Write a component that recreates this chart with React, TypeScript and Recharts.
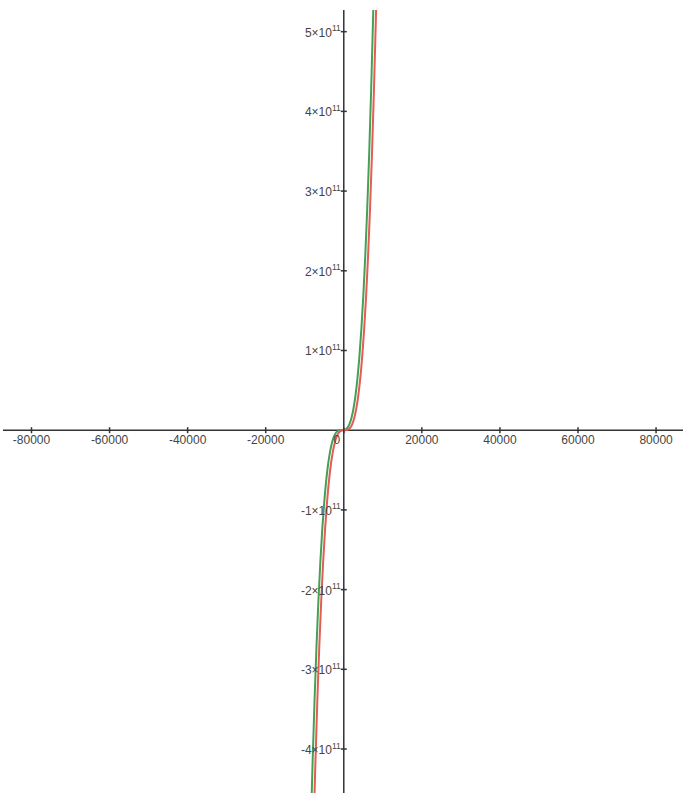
import React from 'react';
import { LineChart, Line, XAxis, YAxis, ReferenceLine, ReferenceDot } from 'recharts';

// x ticks along the horizontal axis, y ticks in units of 10^11
const xTicks = [-80000, -60000, -40000, -20000, 0, 20000, 40000, 60000, 80000];
const yTicks = [5, 4, 3, 2, 1, -1, -2, -3, -4];
const yExponent = '11';

const xDomain = [-87300, 86900];
const yDomain = [-4.552e11, 5.272e11];

// green curve
const greenX = [
    -8400, -8000, -7500, -7000, -6500, -6000, -5500, -5000, -4500, -4000, -3500, -3000,
    -2500, -2000, -1500, -1000, -500, 0, 500, 1000, 1500, 2000, 2500, 3000, 3500, 4000,
    4500, 5000, 5500, 6000, 6500, 7000, 7500, 8000,
];
const greenY = [
    -4.89e11, -4.19e11, -3.4e11, -2.72e11, -2.14e11, -1.65e11, -1.235e11, -8.99e10, -6.3e10,
    -4.21e10, -2.65e10, -1.53e10, -7.76e9, -3.24e9, -9.4e8, -1.1e8, 0, 1.4e8, 1.06e9, 3.51e9,
    8.24e9, 1.6e10, 2.75e10, 4.36e10, 6.5e10, 9.23e10, 1.265e11, 1.682e11, 2.182e11, 2.772e11,
    3.46e11, 4.253e11, 5.158e11, 6.185e11,
];

// red curve, sits a little to the right of the green one
const redX = [
    -7680, -7280, -6780, -6280, -5780, -5280, -4780, -4280, -3780, -3280, -2780, -2280,
    -1780, -1280, -780, -280, 220, 720, 1220, 1720, 2220, 2720, 3220, 3720, 4220, 4720,
    5220, 5720, 6220, 6720, 7220, 7720, 8220, 8720,
];
const redY = [
    -4.89e11, -4.19e11, -3.4e11, -2.72e11, -2.14e11, -1.65e11, -1.235e11, -8.99e10, -6.3e10,
    -4.21e10, -2.65e10, -1.53e10, -7.76e9, -3.24e9, -9.4e8, -1.1e8, 0, 1.4e8, 1.06e9, 3.51e9,
    8.24e9, 1.6e10, 2.75e10, 4.36e10, 6.5e10, 9.23e10, 1.265e11, 1.682e11, 2.182e11, 2.772e11,
    3.46e11, 4.253e11, 5.158e11, 6.185e11,
];

const greenData = greenX.map((x, i) => ({ x, y: greenY[i] }));
const redData = redX.map((x, i) => ({ x, y: redY[i] }));

const AXIS = '#333';
const TEXT = '#444';
const FONT = '"Liberation Sans", Arial, sans-serif';

function XTick({ cx, cy, value }: any) {
    const lx = value === 0 ? cx - 7 : cx;
    return (
        <g>
            <line x1={cx} x2={cx} y1={cy - 3} y2={cy + 3} stroke={AXIS} strokeWidth={1.5} />
            <text x={lx} y={cy + 14} textAnchor="middle" fontSize={12} fontFamily={FONT} fill={TEXT}>
                {value}
            </text>
        </g>
    );
}

function YTick({ cx, cy, value }: any) {
    return (
        <g>
            <line x1={cx - 3} x2={cx + 3} y1={cy} y2={cy} stroke={AXIS} strokeWidth={1.5} />
            <text x={cx - 3} y={cy + 5} textAnchor="end" fontSize={12} fontFamily={FONT} fill={TEXT}>
                {value}×10
                <tspan fontSize={8.5} dy={-5.5}>
                    {yExponent}
                </tspan>
            </text>
        </g>
    );
}

export default function App() {
    return (
        <div style={{ position: 'absolute', left: 0, top: 0, background: '#fff' }}>
            <LineChart width={685} height={800} margin={{ top: 10, right: 2, bottom: 7, left: 3 }}>
                <XAxis hide type="number" dataKey="x" domain={xDomain} allowDataOverflow />
                <YAxis hide type="number" dataKey="y" domain={yDomain} allowDataOverflow />
                <ReferenceLine y={0} stroke={AXIS} strokeWidth={1.5} />
                <ReferenceLine x={0} stroke={AXIS} strokeWidth={1.5} />
                {xTicks.map((t) => (
                    <ReferenceDot
                        key={`x-${t}`}
                        x={t}
                        y={0}
                        shape={(p: any) => <XTick {...p} value={t} />}
                    />
                ))}
                {yTicks.map((t) => (
                    <ReferenceDot
                        key={`y-${t}`}
                        x={0}
                        y={t * 1e11}
                        shape={(p: any) => <YTick {...p} value={t} />}
                    />
                ))}
                <Line
                    data={greenData}
                    dataKey="y"
                    type="monotone"
                    stroke="#45a055"
                    strokeWidth={2}
                    dot={false}
                    isAnimationActive={false}
                />
                <Line
                    data={redData}
                    dataKey="y"
                    type="monotone"
                    stroke="#e35d55"
                    strokeWidth={2}
                    dot={false}
                    isAnimationActive={false}
                />
            </LineChart>
        </div>
    );
}
